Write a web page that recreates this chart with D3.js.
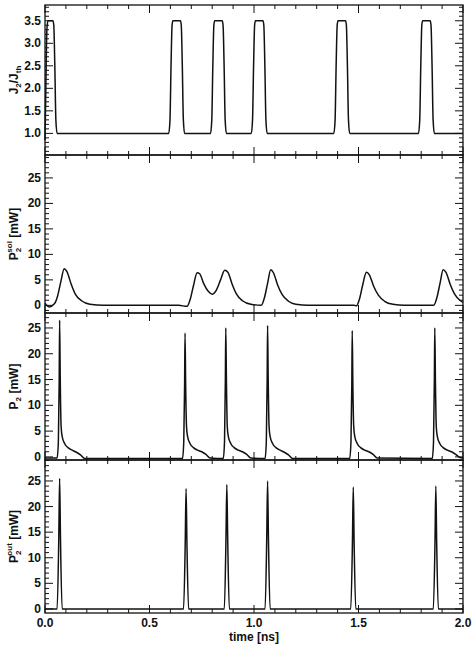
<!DOCTYPE html><html><head><meta charset="utf-8">
<script src="https://cdn.jsdelivr.net/npm/d3@7"></script>
<style>body{margin:0;background:#fff}text{font-family:"Liberation Sans",Arial,sans-serif;font-weight:bold;fill:#111}</style>
</head><body><svg id="c" width="474" height="646"></svg>
<script>
const xTicks=[0,0.5,1.0,1.5,2.0];
const xTickLabels=["0.0","0.5","1.0","1.5","2.0"];
const j2Ticks=[1.0,1.5,2.0,2.5,3.0,3.5];
const pTicks=[0,5,10,15,20,25];
const j2=[[0,0.85],[0.004,2.0],[0.009,3.3],[0.014,3.5],[0.038,3.5],[0.042,3.4],[0.047,2.5],[0.052,1.3],[0.058,1.0],
[0.592,1.0],[0.598,1.3],[0.603,2.5],[0.608,3.4],[0.612,3.5],[0.648,3.5],[0.652,3.4],[0.657,2.5],[0.662,1.3],[0.668,1.0],
[0.792,1.0],[0.798,1.3],[0.803,2.5],[0.808,3.4],[0.812,3.5],[0.848,3.5],[0.852,3.4],[0.857,2.5],[0.862,1.3],[0.868,1.0],
[0.987,1.0],[0.993,1.3],[0.998,2.5],[1.003,3.4],[1.007,3.5],[1.043,3.5],[1.047,3.4],[1.052,2.5],[1.057,1.3],[1.063,1.0],
[1.382,1.0],[1.388,1.3],[1.393,2.5],[1.398,3.4],[1.402,3.5],[1.438,3.5],[1.442,3.4],[1.447,2.5],[1.452,1.3],[1.458,1.0],
[1.787,1.0],[1.793,1.3],[1.798,2.5],[1.803,3.4],[1.807,3.5],[1.843,3.5],[1.847,3.4],[1.852,2.5],[1.857,1.3],[1.863,1.0],[2.0,1.0]];
const sol=[[0,0.4],[0.02,-0.3],[0.045,0.3],[0.06,1.8],[0.075,4.5],[0.092,7.2],[0.105,6.6],[0.125,4.2],[0.145,2.2],[0.175,0.9],[0.215,0.2],[0.28,0],[0.64,0],
[0.68,-0.2],[0.695,1.2],[0.71,3.8],[0.728,6.4],[0.74,6.2],[0.76,4.2],[0.78,2.8],[0.8,2.2],[0.82,3.0],[0.84,5.0],[0.86,6.9],[0.875,6.5],[0.895,4.2],[0.915,2.3],[0.945,0.9],[0.985,0.2],[1.035,0],
[1.05,1.5],[1.065,4.3],[1.08,7.0],[1.093,6.4],[1.113,4.0],[1.135,2.1],[1.165,0.8],[1.2,0.2],[1.26,0],[1.48,0],
[1.49,-0.1],[1.505,1.3],[1.52,4.0],[1.538,6.5],[1.552,6.0],[1.572,3.8],[1.595,2.0],[1.625,0.8],[1.665,0.2],[1.72,0],[1.85,0],
[1.86,0],[1.875,1.5],[1.89,4.3],[1.905,7.0],[1.918,6.5],[1.94,4.0],[1.96,2.2],[1.985,1.0],[2.0,0.6]];
const p2=[[0,-0.2],[0.058,-0.2],[0.064,3],[0.068,15],[0.07,26.5],[0.073,15],[0.077,6],[0.082,4],[0.095,2.5],[0.11,1.8],[0.13,1.3],[0.15,0.9],[0.17,0.4],[0.19,-0.3],[0.658,-0.3],
[0.664,3],[0.668,14],[0.67,24],[0.673,14],[0.677,6],[0.682,4],[0.695,2.5],[0.71,1.8],[0.73,1.3],[0.75,1.0],[0.77,0.5],[0.79,-0.2],[0.853,-0.3],
[0.859,3],[0.863,15],[0.865,25],[0.868,15],[0.872,6],[0.877,4],[0.89,2.5],[0.905,1.8],[0.925,1.3],[0.945,1.0],[0.965,0.5],[0.985,-0.2],[1.053,-0.3],
[1.059,3],[1.063,15],[1.065,25.5],[1.068,15],[1.072,6],[1.077,4],[1.09,2.5],[1.105,1.8],[1.125,1.3],[1.145,0.9],[1.165,0.4],[1.185,-0.3],[1.458,-0.3],
[1.464,3],[1.468,14],[1.47,24.5],[1.473,14],[1.477,6],[1.482,4],[1.495,2.5],[1.51,1.8],[1.53,1.3],[1.55,1.0],[1.57,0.5],[1.59,-0.2],[1.853,-0.3],
[1.859,3],[1.863,15],[1.865,25],[1.868,15],[1.872,6],[1.877,4],[1.89,2.5],[1.905,1.8],[1.925,1.3],[1.945,1.0],[1.965,0.5],[1.985,-0.1],[2.0,-0.2]];
const pout=[[0,0],[0.058,0],[0.066,14],[0.07,25.5],[0.074,14],[0.082,0],
[0.663,0],[0.671,13],[0.675,23.5],[0.679,13],[0.687,0],
[0.858,0],[0.866,14],[0.87,24.3],[0.874,14],[0.882,0],
[1.053,0],[1.061,14],[1.065,25],[1.069,14],[1.077,0],
[1.463,0],[1.471,13],[1.475,23.8],[1.479,13],[1.487,0],
[1.858,0],[1.866,13],[1.87,24],[1.874,13],[1.882,0],[2.0,0]];

const svg=d3.select("#c");
const L=45,R=463;
const x=d3.scaleLinear().domain([0,2]).range([L,R]);
const panels=[
 {top:5,bot:155,dom:[0.52,3.85],data:j2,ticks:j2Ticks,fmt:d3.format(".1f"),minor:0.1,label:[["J",0],["2",1],["/J",0],["th",1]]},
 {top:155,bot:313,dom:[-1.5,29.5],data:sol,ticks:pTicks,fmt:d3.format("d"),minor:1,label:[["P",0],["2",1],["sol",2],[" [mW]",0]]},
 {top:313,bot:460,dom:[-0.6,27.9],data:p2,ticks:pTicks,fmt:d3.format("d"),minor:1,label:[["P",0],["2",1],[" [mW]",0]]},
 {top:460,bot:613,dom:[-0.8,29.1],data:pout,ticks:pTicks,fmt:d3.format("d"),minor:1,label:[["P",0],["2",1],["out",2],[" [mW]",0]]}
];
const xMinor=d3.range(0,2.0001,0.1);
const levels={0:0,1:3,2:-6};
panels.forEach((p,i)=>{
 const y=d3.scaleLinear().domain(p.dom).range([p.bot,p.top]);
 const g=svg.append("g");
 g.append("rect").attr("x",L).attr("y",p.top).attr("width",R-L).attr("height",p.bot-p.top).attr("fill","none").attr("stroke","#111").attr("stroke-width",1.3);
 xMinor.forEach(t=>{const maj=Math.abs(t*2-Math.round(t*2))<1e-6;const len=maj?8:4;
  g.append("line").attr("x1",x(t)).attr("x2",x(t)).attr("y1",p.bot).attr("y2",p.bot-len).attr("stroke","#111");
  g.append("line").attr("x1",x(t)).attr("x2",x(t)).attr("y1",p.top).attr("y2",p.top+len).attr("stroke","#111");});
 const mn=d3.range(Math.ceil(p.dom[0]/p.minor)*p.minor,p.dom[1],p.minor);
 mn.forEach(v=>{const maj=p.ticks.some(t=>Math.abs(t-v)<1e-6);const len=maj?8:4;
  g.append("line").attr("x1",L).attr("x2",L+len).attr("y1",y(v)).attr("y2",y(v)).attr("stroke","#111");
  g.append("line").attr("x1",R).attr("x2",R-len).attr("y1",y(v)).attr("y2",y(v)).attr("stroke","#111");});
 p.ticks.forEach(v=>g.append("text").attr("x",L-4).attr("y",y(v)+4).attr("text-anchor","end").attr("font-size",12).text(p.fmt(v)));
 g.append("path").datum(p.data).attr("fill","none").attr("stroke","#111").attr("stroke-width",1.5)
  .attr("d",d3.line().x(d=>x(d[0])).y(d=>y(d[1])).curve(d3.curveMonotoneX));
 const lt=g.append("text").attr("transform",`translate(18,${(p.top+p.bot)/2}) rotate(-90)`).attr("text-anchor","middle").attr("font-size",12);
 let cur=0,prev=-1;
 p.label.forEach(([s,k])=>{const ts=lt.append("tspan").text(s);
  const lv=levels[k];ts.attr("dy",lv-cur);cur=lv;
  if(k>0) ts.attr("font-size",8);
  if(k===2&&prev===1) ts.attr("dx",-5);
  prev=k;});
});
xTicks.forEach((t,i)=>svg.append("text").attr("x",x(t)).attr("y",627).attr("text-anchor","middle").attr("font-size",12).text(xTickLabels[i]));
svg.append("text").attr("x",x(1)).attr("y",641).attr("text-anchor","middle").attr("font-size",12).text("time [ns]");
</script></body></html>
